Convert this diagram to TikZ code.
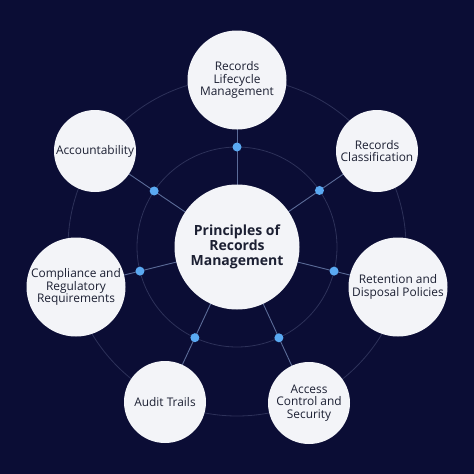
\documentclass[tikz,border=0pt]{standalone}
\usepackage{fontspec}
\setmainfont{Open Sans}
\usetikzlibrary{calc}
\definecolor{bgc}{HTML}{0B0D35}
\definecolor{ringc}{HTML}{2D3159}
\definecolor{spokec}{HTML}{5B6B98}
\definecolor{dotc}{HTML}{5AA9F2}
\definecolor{fillc}{HTML}{F3F4F8}
\definecolor{txtc}{HTML}{1C2033}
\tikzset{
  bubble/.style={circle, fill=fillc, text=txtc, inner sep=0pt, align=center,
    font=\fontsize{11.9}{12.2}\selectfont},
  hub/.style={circle, fill=fillc, text=txtc, inner sep=0pt, align=center,
    minimum size=125pt, font=\bfseries\fontsize{14}{14.7}\selectfont},
  big/.style={minimum size=99pt},
  small/.style={minimum size=82pt},
  ring/.style={draw=ringc, line width=0.8pt},
  spoke/.style={draw=spokec, line width=0.9pt},
  hubdot/.style={circle, fill=dotc, inner sep=0pt, minimum size=9pt},
}
\begin{document}
\begin{tikzpicture}[x=1pt,y=-1pt]
\fill[bgc] (0,0) rectangle (474,474);
\useasboundingbox (0,0) rectangle (474,474);
\coordinate (o) at (237,247);
\draw[ring] (o) circle (100);
\draw[ring] (o) circle (169);
% outer node positions
\coordinate (lc) at (237,80);
\coordinate (cl) at (377,151);
\coordinate (rt) at (398,287);
\coordinate (ac) at (309,403);
\coordinate (au) at (165,402);
\coordinate (cp) at (76,287);
\coordinate (at) at (95,151);
% spokes
\foreach \n in {lc,cl,rt,ac,au,cp,at}{
  \draw[spoke] (o) -- (\n);
}
% nodes
\node[bubble,big]   (nlc) at (lc) {Records\\Lifecycle\\Management};
\node[bubble,small] (ncl) at (cl) {Records\\Classification};
\node[bubble,big]   (nrt) at (rt) {Retention and\\Disposal Policies};
\node[bubble,small] (nac) at (ac) {Access\\Control and\\Security};
\node[bubble,small] (nau) at (au) {Audit Trails};
\node[bubble,big]   (ncp) at (cp) {Compliance and\\Regulatory\\Requirements};
\node[bubble,small] (nat) at (at) {Accountability};
\node[hub] (c) at (o) {Principles of\\Records\\Management};
% dots
\foreach \n in {lc,cl,rt,ac,au,cp,at}{
  \node[hubdot] (d\n) at ($(o)!100pt!(\n)$) {};
}
\end{tikzpicture}
\end{document}
